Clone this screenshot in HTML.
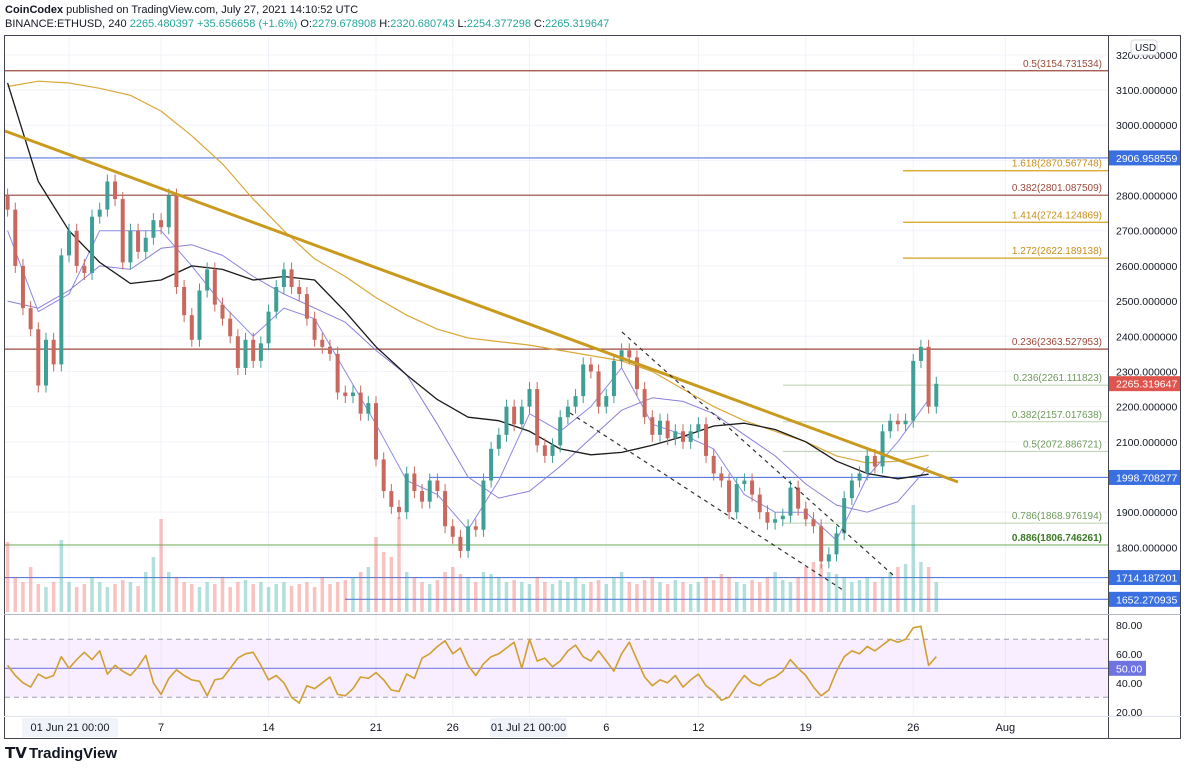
<!DOCTYPE html>
<html><head><meta charset="utf-8"><style>
html,body{margin:0;padding:0;background:#fff;width:1186px;height:768px;overflow:hidden;font-family:"Liberation Sans",sans-serif;}
svg text{font-family:"Liberation Sans",sans-serif;}
</style></head><body>
<svg id="chart" width="1186" height="768" viewBox="0 0 1186 768" xmlns="http://www.w3.org/2000/svg">
<rect x="0" y="0" width="1186" height="768" fill="#fff"/>
<text x="5" y="13" font-size="11" fill="#131722"><tspan font-weight="bold">CoinCodex</tspan> published on TradingView.com, July 27, 2021 14:10:52 UTC</text>
<text x="5" y="27" font-size="11" fill="#131722">BINANCE:ETHUSD, 240  <tspan fill="#26a69a">2265.480397  +35.656658 (+1.6%)</tspan>  O:<tspan fill="#26a69a">2279.678908</tspan>  H:<tspan fill="#26a69a">2320.680743</tspan>  L:<tspan fill="#26a69a">2254.377298</tspan>  C:<tspan fill="#26a69a">2265.319647</tspan></text>
<g id="grid"></g>
<g id="fibs"></g>
<g id="vol"></g>
<g id="mas"></g>
<g id="candles"></g>
<g id="drawings"></g>
<g id="rsi"></g>
<g id="axes"></g>
<rect x="4.5" y="35.5" width="1176" height="703" fill="none" stroke="#434651" stroke-width="1"/>
<line x1="1108.5" y1="35" x2="1108.5" y2="738" stroke="#434651"/>
<line x1="4" y1="614.5" x2="1181" y2="614.5" stroke="#b2b5be"/>
<line x1="4" y1="716.5" x2="1181" y2="716.5" stroke="#e0e3eb"/>
<g><text x="5" y="758" font-size="15" font-weight="bold" fill="#131722">𝗧𝗩</text><text x="29" y="758" font-size="15" font-weight="bold" fill="#131722">TradingView</text></g>
</svg>
<script>
const closes=[2760,2600,2480,2420,2260,2390,2320,2630,2700,2600,2580,2740,2760,2840,2790,2610,2700,2640,2680,2730,2710,2800,2540,2460,2390,2530,2590,2490,2450,2400,2310,2390,2330,2380,2470,2540,2590,2540,2520,2450,2390,2370,2350,2240,2230,2240,2180,2210,2050,1960,1915,1900,2010,1960,1930,1990,1960,1860,1830,1790,1860,1850,1990,2080,2120,2200,2150,2200,2250,2090,2060,2090,2170,2200,2230,2320,2300,2200,2230,2330,2360,2340,2250,2170,2120,2160,2110,2130,2100,2130,2150,2060,2010,1990,1900,1980,1990,1950,1900,1870,1880,1890,1970,1910,1880,1860,1760,1780,1840,1940,1990,2010,2060,2030,2130,2160,2150,2160,2330,2370,2200,2265];
const firstOpen=2800;
const volumes=[70,35,30,45,28,25,30,72,30,25,28,35,30,25,28,32,30,26,40,55,93,40,35,30,28,25,30,28,35,25,30,32,28,30,25,28,30,26,28,30,25,35,28,30,32,35,40,45,75,60,55,95,40,35,30,28,32,40,45,38,35,30,40,38,35,30,32,30,28,35,30,28,32,30,35,28,30,32,28,35,40,30,28,32,35,30,28,32,30,28,30,35,32,38,35,30,28,32,30,35,40,32,30,35,45,50,48,40,38,35,30,32,35,30,35,40,45,48,107,50,45,30];
const rsiValues=[52,45,40,37,46,43,45,58,50,56,61,56,62,46,52,48,45,51,59,40,32,43,49,45,42,41,31,42,43,50,57,60,61,52,42,45,40,30,26,38,36,40,44,32,31,36,44,43,47,42,35,34,46,43,57,60,65,69,60,64,52,45,53,58,60,64,68,50,70,55,57,51,55,62,66,58,55,62,55,48,60,68,56,44,38,42,40,45,37,42,46,38,34,28,30,38,45,40,38,42,44,48,56,50,45,37,31,35,48,58,62,60,65,62,66,70,68,70,78,79,52,58];
const maBlack=[3120,2840,2700,2610,2550,2560,2600,2590,2560,2570,2560,2470,2370,2290,2220,2170,2160,2130,2080,2063,2070,2090,2115,2145,2153,2135,2100,2045,2010,1995,2008];
const maGold=[3110,3125,3120,3105,3085,3040,2970,2890,2790,2700,2620,2570,2510,2460,2420,2395,2385,2375,2360,2345,2330,2300,2250,2200,2160,2130,2100,2060,2040,2045,2062];
const maPurpleSlow=[2500,2480,2530,2600,2590,2650,2660,2630,2570,2520,2480,2440,2360,2290,2150,2000,1940,1960,2030,2110,2190,2225,2215,2180,2120,2060,1980,1920,1900,1930,2030];
const maPurpleFast=[2700,2470,2520,2700,2700,2700,2600,2490,2400,2480,2450,2300,2150,1990,1950,1850,1990,2180,2130,2200,2310,2150,2120,2080,1950,1900,1900,1820,2000,2100,2220];
const priceTicks=[3200,3100,3000,2800,2700,2600,2500,2400,2300,2200,2100,1900,1800];
const rsiTicks=[80,60,40,20];
const dayTicks=[[6,"7"],[13,"14"],[20,"21"],[25,"26"],[35,"6"],[41,"12"],[48,"19"],[55,"26"],[61,"Aug"]];
const fullLevels=[[3154.731534,"0.5(3154.731534)","#9c4a3c"],[2801.087509,"0.382(2801.087509)","#9c4a3c"],[2363.527953,"0.236(2363.527953)","#9c4a3c"]];
const extLevels=[[2870.567748,"1.618(2870.567748)"],[2724.124869,"1.414(2724.124869)"],[2622.189138,"1.272(2622.189138)"]];
const retrLevels=[[2261.111823,"0.236(2261.111823)"],[2157.017638,"0.382(2157.017638)"],[2072.886721,"0.5(2072.886721)"],[1868.976194,"0.786(1868.976194)"]];
const hLines=[[2906.958559,4],[1998.708277,430],[1714.187201,4],[1652.270935,345]];
const lastPrice=2265.319647;

const NS="http://www.w3.org/2000/svg";
function yP(p){return 477-(p-2000)*0.3518;}
function xDay(d){return 69+15.35*d;}
function xIdx(i){return xDay(-4+i/2);}
function xMA(k){return xDay(-4+2*k);}
function yR(r){return 668.3-(r-50)*1.45;}
function el(tag,attrs,parent){const e=document.createElementNS(NS,tag);for(const k in attrs)e.setAttribute(k,attrs[k]);parent.appendChild(e);return e;}
const G=id=>document.getElementById(id);

const grid=G("grid");
priceTicks.concat([2900,2000,1700]).forEach(p=>{const l=el("line",{x1:5,x2:1108,y1:yP(p),y2:yP(p),stroke:"#f0f3fa"},grid);});
[[0,""]].concat(dayTicks).concat([[30,""]]).forEach(t=>{const x=xDay(t[0]);const l=el("line",{x1:x,x2:x,y1:36,y2:716,stroke:"#f0f3fa"},grid);});

const fibs=G("fibs");
fullLevels.forEach(f=>{const y=yP(f[0]);const l=el("line",{x1:5,x2:1108,y1:y,y2:y,stroke:f[2],"stroke-width":1.2},fibs);
const t=el("text",{x:1102,y:y-4,"font-size":10,"text-anchor":"end",fill:f[2]},fibs);t.textContent=f[1];});
extLevels.forEach(f=>{const y=yP(f[0]);const l=el("line",{x1:903,x2:1108,y1:y,y2:y,stroke:"#d4a21a","stroke-width":1.2},fibs);
const t=el("text",{x:1102,y:y-4,"font-size":10,"text-anchor":"end",fill:"#c7901a"},fibs);t.textContent=f[1];});
retrLevels.forEach(f=>{const y=yP(f[0]);const l=el("line",{x1:783,x2:1108,y1:y,y2:y,stroke:"#b9cfae","stroke-width":1},fibs);
const t=el("text",{x:1102,y:y-4,"font-size":10,"text-anchor":"end",fill:"#6f9a5c"},fibs);t.textContent=f[1];});
(function(){const y=yP(1806.746261);const l=el("line",{x1:5,x2:1108,y1:y,y2:y,stroke:"#6aa84f","stroke-width":1},fibs);
const t=el("text",{x:1102,y:y-4,"font-size":10,"text-anchor":"end",fill:"#3d7a24","font-weight":"bold"},fibs);t.textContent="0.886(1806.746261)";})();
hLines.forEach(h=>{const y=yP(h[0]);const l=el("line",{x1:h[1],x2:1108,y1:y,y2:y,stroke:"#5b7be0","stroke-width":1.2},fibs);});

const vol=G("vol");
volumes.forEach((v,i)=>{const o=i?closes[i-1]:firstOpen;const up=closes[i]>=o;const r=el("rect",{x:xIdx(i)-1.75,y:612-v,width:3.5,height:v,fill:up?"rgba(38,166,154,0.35)":"rgba(239,83,80,0.35)"},vol);});

const mas=G("mas");
function maLine(arr,color,w,name){const d=arr.map((v,k)=>(k?"L":"M")+xMA(k).toFixed(1)+","+yP(v).toFixed(1)).join(" ");const p=el("path",{d:d,fill:"none",stroke:color,"stroke-width":w,"stroke-linejoin":"round"},mas);}
maLine(maGold,"#d9a93a",1.2,"ma-200-gold");
maLine(maPurpleSlow,"#8a7fd6",1,"ma-50-purple");
maLine(maPurpleFast,"#8c8ae6",1,"ma-20-purple");
maLine(maBlack,"#1a1a1a",1.3,"ma-100-black");

const cg=G("candles");
closes.forEach((c,i)=>{const o=i?closes[i-1]:firstOpen;const up=c>=o;const x=xIdx(i);const col=up?"#3f9f96":"#c9685e";
const yt=yP(Math.max(o,c)),yb=yP(Math.min(o,c));
const w=el("line",{x1:x,x2:x,y1:yt-7,y2:yb+7,stroke:col,"stroke-width":1},cg);
const b=el("rect",{x:x-2,y:yt,width:4,height:Math.max(1,yb-yt),fill:col},cg);});

const dr=G("drawings");
let t1=el("line",{x1:5,y1:131,x2:958,y2:482,stroke:"#c99a1e","stroke-width":3},dr);
let t2=el("line",{x1:622,y1:332,x2:893,y2:575,stroke:"#333","stroke-width":1.2,"stroke-dasharray":"4,4"},dr);
let t3=el("line",{x1:570,y1:413,x2:843,y2:590,stroke:"#333","stroke-width":1.2,"stroke-dasharray":"4,4"},dr);

const rg=G("rsi");
let band=el("rect",{x:5,y:yR(70),width:1103,height:yR(30)-yR(70),fill:"rgba(200,120,255,0.13)"},rg);
[70,30].forEach(v=>{const l=el("line",{x1:5,x2:1108,y1:yR(v),y2:yR(v),stroke:"#a0a0b0","stroke-dasharray":"5,4"},rg);});
let mid=el("line",{x1:5,x2:1108,y1:yR(50),y2:yR(50),stroke:"#7a7ee0","stroke-width":1.2},rg);
let rp=el("path",{d:rsiValues.map((v,i)=>(i?"L":"M")+xIdx(i).toFixed(1)+","+yR(v).toFixed(1)).join(" "),fill:"none",stroke:"#d19f2f","stroke-width":1.6,"stroke-linejoin":"round"},rg);

const ax=G("axes");
priceTicks.forEach(p=>{const t=el("text",{x:1116,y:yP(p)+4,"font-size":10.5,fill:"#131722"},ax);t.textContent=p.toFixed(6);});
let usd=el("rect",{x:1131,y:40,width:26,height:15,rx:3,fill:"#fff",stroke:"#d1d4dc"},ax);
let ut=el("text",{x:1135,y:51,"font-size":10,fill:"#131722"},ax);ut.textContent="USD";
function priceBox(p,color,name){const y=yP(p);const r=el("rect",{x:1108,y:y-7.5,width:72,height:15,fill:color},ax);
const t=el("text",{x:1116,y:y+4,"font-size":10.5,fill:"#fff"},ax);t.textContent=p.toFixed(6);}
hLines.forEach(h=>priceBox(h[0],"#3a6fe0","level-price-box"));
priceBox(lastPrice,"#e0544e","last-price-box");
rsiTicks.forEach(r=>{const t=el("text",{x:1116,y:yR(r)+4,"font-size":10.5,fill:"#131722"},ax);t.textContent=r.toFixed(2);});
let rb=el("rect",{x:1108,y:yR(50)-7.5,width:38,height:15,fill:"#6f73e0"},ax);
let rbt=el("text",{x:1116,y:yR(50)+4,"font-size":10.5,fill:"#fff"},ax);rbt.textContent="50.00";
[[0,"01 Jun 21  00:00",22,96],[30,"01 Jul 21  00:00",490,77]].forEach(b=>{const r=el("rect",{x:b[2],y:718,width:b[3],height:19,fill:"#f0f3fa"},ax);
const t=el("text",{x:b[2]+b[3]/2,y:731,"font-size":11,"text-anchor":"middle",fill:"#131722"},ax);t.textContent=b[1];});
dayTicks.forEach(d=>{const t=el("text",{x:xDay(d[0]),y:731,"font-size":11,"text-anchor":"middle",fill:"#131722"},ax);t.textContent=d[1];});
</script>
</body></html>
